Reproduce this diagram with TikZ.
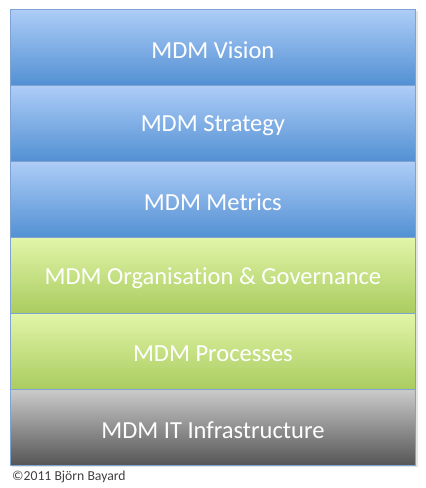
\documentclass[tikz,border=0pt]{standalone}
\usepackage{fontspec}
\setmainfont[Ligatures=NoCommon]{Carlito}
\definecolor{bluetop}{HTML}{AECDF7}
\definecolor{bluebot}{HTML}{5290D3}
\definecolor{greentop}{HTML}{E2F5A9}
\definecolor{greenbot}{HTML}{A9CC5F}
\definecolor{graytop}{HTML}{CBCBCB}
\definecolor{graybot}{HTML}{555555}
\definecolor{edgeblue}{HTML}{7FA2D2}
\definecolor{shadowgray}{HTML}{E4E4E4}
\tikzset{
  layer/.style={draw=edgeblue, line width=0.8pt, minimum width=405pt, minimum height=76pt,
    inner sep=0pt, anchor=north west,
    label={[text=white, font=\fontsize{24.5}{28}\selectfont, yshift=-2.5pt]center:#1}},
  bluelayer/.style={layer=#1, top color=bluetop, bottom color=bluebot},
  greenlayer/.style={layer=#1, top color=greentop, bottom color=greenbot},
  graylayer/.style={layer=#1, top color=graytop, bottom color=graybot},
  credit/.style={font=\fontsize{13.7}{16}\selectfont, text=black!75, anchor=west, inner sep=0pt}
}
\begin{document}
\begin{tikzpicture}[x=1pt,y=1pt]
\useasboundingbox (0,0) rectangle (426,488);
\fill[shadowgray] (12,488-467) rectangle (418,488-11);
\node[bluelayer={MDM Vision}] (vision) at (10,488-9) {};
\node[bluelayer={MDM Strategy}] (strategy) at (10,488-85) {};
\node[bluelayer={MDM Metrics}] (metrics) at (10,488-161) {};
\node[greenlayer={MDM Organisation \& Governance}] (org) at (10,488-237) {};
\node[greenlayer={MDM Processes}] (proc) at (10,488-313) {};
\node[graylayer={MDM IT Infrastructure}] (it) at (10,488-389) {};
\node[credit] (copy) at (12,488-477) {©2011 Björn Bayard};
\end{tikzpicture}
\end{document}
